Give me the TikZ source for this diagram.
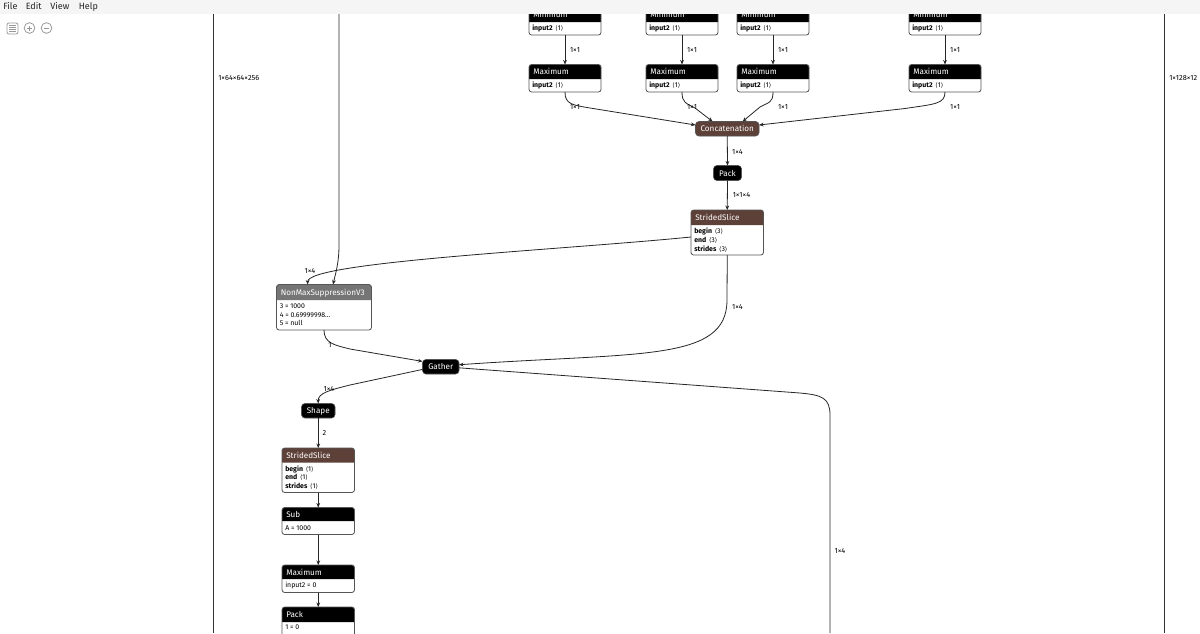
\documentclass[tikz,border=0pt]{standalone}
\usepackage{fontspec}
\setmainfont{Fira Sans}
\newfontfamily\angfont{DejaVu Sans}
\usetikzlibrary{arrows.meta,fit}
\definecolor{hbrown}{HTML}{5D4037}
\definecolor{hgray}{HTML}{757575}
\definecolor{bord}{HTML}{555555}
\definecolor{menubg}{HTML}{F5F5F5}
\newcommand{\ang}[1]{\hspace{0.7pt}{\angfont\fontsize{4.6}{6}\selectfont ⟨}#1{\angfont\fontsize{4.6}{6}\selectfont ⟩}}
\newcommand{\inp}[1]{\textbf{#1}}
% name x0 y0 x1 yh y1 colour title lines
\newcommand{\gbox}[9]{%
  \coordinate (#1-a) at (#2,#3);\coordinate (#1-b) at (#4,#6);
  \node[boxbg,fit=(#1-a)(#1-b)] (#1) {};
  \fill[#7] (#2,#5) [rounded corners=2pt] -- (#2,#3) -- (#4,#3) [sharp corners] -- (#4,#5) -- cycle;
  \node[titletxt] (#1-t) at (#2+4,{(#3+#5)/2}) {#8};
  \node[linetxt] (#1-l) at (#2+3,{(#5+#6)/2}) {#9};
  \draw[boxline] (#1.south west) rectangle (#1.north east);
}
% name x0 y0 x1 y1 colour title
\newcommand{\pill}[7]{%
  \coordinate (#1-a) at (#2,#3);\coordinate (#1-b) at (#4,#5);
  \node[pillbox,fill=#6,fit=(#1-a)(#1-b)] (#1) {};
  \node[pilltxt] (#1-t) at (#1.center) {#7};
}
\tikzset{
  x=0.75pt,y=-0.75pt,
  boxbg/.style={inner sep=0pt,outer sep=0pt,rectangle,fill=white},
  boxline/.style={draw=bord,line width=0.6pt,rounded corners=2pt},
  pillbox/.style={inner sep=0pt,outer sep=0pt,rectangle,rounded corners=2.5pt,draw=bord,line width=0.4pt},
  titletxt/.style={anchor=west,inner sep=0pt,text=white,text height=5.4pt,text depth=0.9pt,font=\fontsize{6.1}{7}\selectfont},
  pilltxt/.style={inner sep=0pt,text=white,text height=5.4pt,text depth=0.9pt,font=\fontsize{6.1}{7}\selectfont},
  linetxt/.style={anchor=west,inner sep=0pt,align=left,text=black,font=\fontsize{5.2}{6.5}\selectfont},
  dimtxt/.style={inner sep=0pt,text=black,font=\fontsize{5.5}{6}\selectfont},
  edgeline/.style={draw=black!85,line width=0.6pt,-{Stealth[length=3.4pt,width=2.8pt]}},
  plainedge/.style={draw=black!85,line width=0.6pt},
  groupline/.style={draw=black!80,line width=0.75pt},
  menutxt/.style={inner sep=0pt,anchor=west,text=black!85,text height=5pt,text depth=0.2pt,font=\fontsize{6.8}{8}\selectfont},
  iconline/.style={draw=black!40,line width=0.6pt}
}
\begin{document}
\begin{tikzpicture}
\useasboundingbox (0,0) rectangle (1200,633);
\clip (0,0) rectangle (1200,633);
\fill[white] (0,0) rectangle (1200,633);
% top-level coordinates
\coordinate (ltop) at (213,14);\coordinate (lbot) at (213,633);
\coordinate (rtop) at (1164.5,14);\coordinate (rbot) at (1164.5,633);
\coordinate (nmstop) at (339,14);
\coordinate (gatherbot) at (830,633);
\draw[groupline] (ltop) -- (lbot);
\draw[groupline] (rtop) -- (rbot);
\node[dimtxt,anchor=west] (gl) at (218,78.5) {1×64×64×256};
\node[dimtxt,anchor=west] (gr) at (1169,78.5) {1×128×12};
% nodes
\gbox{mina}{529}{6}{601}{22}{35}{black}{Minimum}{\inp{input2} \ang{1}}
\gbox{minb}{646}{6}{718}{22}{35}{black}{Minimum}{\inp{input2} \ang{1}}
\gbox{minc}{737}{6}{809}{22}{35}{black}{Minimum}{\inp{input2} \ang{1}}
\gbox{mind}{909}{6}{981}{22}{35}{black}{Minimum}{\inp{input2} \ang{1}}
\gbox{maxa}{529}{64.5}{601}{79}{92}{black}{Maximum}{\inp{input2} \ang{1}}
\gbox{maxb}{646}{64.5}{718}{79}{92}{black}{Maximum}{\inp{input2} \ang{1}}
\gbox{maxc}{737}{64.5}{809}{79}{92}{black}{Maximum}{\inp{input2} \ang{1}}
\gbox{maxd}{909}{64.5}{981}{79}{92}{black}{Maximum}{\inp{input2} \ang{1}}
\pill{concat}{695.5}{121.5}{759}{136}{hbrown}{Concatenation}
\pill{packa}{713.5}{165.5}{741.5}{180.5}{black}{Pack}
\gbox{ssa}{691}{210}{763.5}{225}{255}{hbrown}{StridedSlice}{\inp{begin} \ang{3}\\\inp{end} \ang{3}\\\inp{strides} \ang{3}}
\gbox{nms}{276.5}{284.5}{371.5}{300}{330}{hgray}{NonMaxSuppressionV3}{3 = 1000\\4 = 0.69999998…\\5 = null}
\pill{gather}{422.5}{359.5}{459}{374}{black}{Gather}
\pill{shape}{301.5}{403.5}{335}{418}{black}{Shape}
\gbox{ssb}{282}{448}{354.5}{462.5}{492.5}{hbrown}{StridedSlice}{\inp{begin} \ang{1}\\\inp{end} \ang{1}\\\inp{strides} \ang{1}}
\gbox{sub}{282}{507.5}{354.5}{521}{534.5}{black}{Sub}{A = 1000}
\gbox{maxe}{282}{565}{354.5}{579}{592.5}{black}{Maximum}{input2 = 0}
\gbox{packb}{282}{607}{354.5}{622}{645}{black}{Pack}{}
\node[linetxt] (packb-v) at (285,627) {1 = 0};
% connectors
\foreach \m/\n in {mina/maxa,minb/maxb,minc/maxc,mind/maxd}{\draw[edgeline] (\m.south) -- (\n.north);}
\draw[edgeline] (maxa.south) .. controls +(0,12) and (572,105) .. (590,108) -- ([yshift=2.8pt]concat.west);
\draw[edgeline] (maxb.south) .. controls +(0,11) and (686,103) .. (695,108) -- ([xshift=-11pt]concat.north);
\draw[edgeline] (maxc.south) .. controls +(0,11) and (769,102) .. (760,107) -- ([xshift=11.5pt]concat.north);
\draw[edgeline] (maxd.south) .. controls +(0,12) and (935,104) .. (905,108.5) -- ([yshift=2.8pt]concat.east);
\draw[edgeline] (concat.south) -- (packa.north);
\draw[edgeline] (packa.south) -- (ssa.north);
\draw[edgeline] (ssa.west|-0,237) .. controls (560,250) and (307,262) .. ([xshift=-12.2pt]nms.north);
\draw[edgeline] (nmstop) -- (339,245) .. controls (339,262) and (336,272) .. ([xshift=6.75pt]nms.north);
\draw[edgeline] (nms.south) .. controls (324,343) and (334,345) .. (350,349) -- ([yshift=4pt]gather.west);
\draw[edgeline] (ssa.south) -- (727,300) .. controls (727,362) and (640,352) .. ([yshift=1.5pt]gather.east);
\draw[edgeline] ([yshift=-2pt]gather.west) -- (350,385) .. controls (330,390) and (318,393) .. (shape.north);
\draw[plainedge] ([yshift=-0.8pt]gather.east) -- (800,393) .. controls (822,395) and (830,398) .. (830,415) -- (gatherbot);
\draw[edgeline] (shape.south) -- (ssb.north);
\draw[edgeline] (ssb.south) -- (sub.north);
\draw[edgeline] (sub.south) -- (maxe.north);
\draw[edgeline] (maxe.south) -- (packb.north);
% edge labels
\foreach \x/\y/\t/\nm in {575/50/1×1/la,692/50/1×1/lb,783/50/1×1/lc,955/50/1×1/ld,575/107.5/1×1/le,692/107.5/1×1/lf,783/107.5/1×1/lg,955/107.5/1×1/lh,737.5/152/1×4/li,741.5/195.5/1×1×4/lj,310/271/1×4/lk,737.5/307.5/1×4/ll,330/345/1/lm,329/389.5/1×4/ln,324.5/432.5/2/lo,840/551/1×4/lp}{
  \node[dimtxt] (\nm) at (\x,\y) {\t};
}
% menu
\fill[menubg] (0,0) rectangle (1200,14);
\node[menutxt] (mfile) at (3,6.5) {File};
\node[menutxt] (medit) at (25.5,6.5) {Edit};
\node[menutxt] (mview) at (50,6.5) {View};
\node[menutxt] (mhelp) at (78.5,6.5) {Help};
% toolbar icons
\draw[iconline,rounded corners=1.5pt] (7,23) rectangle (18,34);
\draw[iconline] (9,25.5) -- (16,25.5) (9,27.5) -- (16,27.5) (9,29.5) -- (16,29.5) (9,31.5) -- (16,31.5);
\draw[iconline] (29.5,28) circle (4pt);
\draw[iconline] (27,28) -- (32,28) (29.5,25.5) -- (29.5,30.5);
\draw[iconline] (46.5,28) circle (4pt);
\draw[iconline] (44,28) -- (49,28);
\end{tikzpicture}
\end{document}
